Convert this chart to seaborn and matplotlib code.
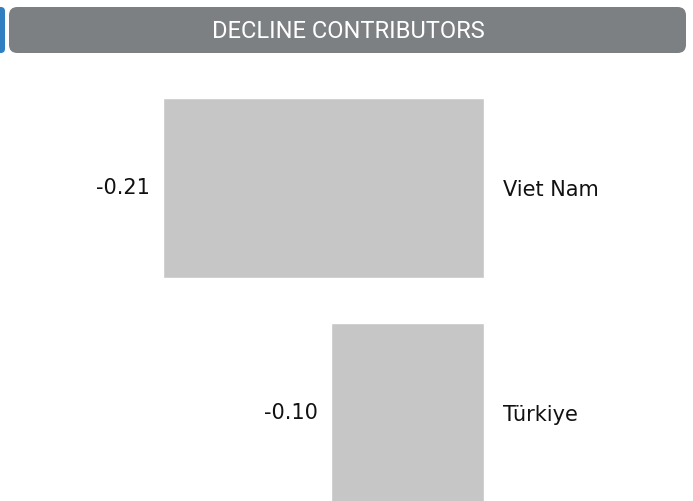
import matplotlib
matplotlib.use("Agg")
import matplotlib.pyplot as plt
from matplotlib.patches import FancyBboxPatch
import seaborn as sns
import pandas as pd

# Countries pulling the index down and their contributions
countries = ["Viet Nam", "Türkiye"]
contributions = [-0.21, -0.10]
value_labels = ["-0.21", "-0.10"]

title = "DECLINE CONTRIBUTORS"

sns.set_theme(style="white")
plt.rcParams["font.family"] = ["DejaVu Sans"]

df = pd.DataFrame({"country": countries, "contribution": contributions})

W, H = 693, 501
fig = plt.figure(figsize=(W / 100, H / 100), dpi=100)

# Axes placed in pixel terms
ax_left, ax_right = 20, 680
ax_top, ax_bottom = 76, 501
ax = fig.add_axes([ax_left / W, 1 - ax_bottom / H,
                   (ax_right - ax_left) / W, (ax_bottom - ax_top) / H])

sns.barplot(data=df, y="country", x="contribution", orient="h",
            color="#c6c6c6", saturation=1, width=0.8, ax=ax)

# x scale: zero at px 484, 1529 px per unit
px_per_unit = 1529.0
x0 = 484
ax.set_xlim(-(x0 - ax_left) / px_per_unit, (ax_right - x0) / px_per_unit)
row_px = 225.0
first_center = 188.0
ax.set_ylim((ax_bottom - first_center) / row_px, (ax_top - first_center) / row_px)

for s in ax.spines.values():
    s.set_visible(False)
ax.set_xticks([])
ax.set_yticks([])
ax.set_xlabel("")
ax.set_ylabel("")

ax.bar_label(ax.containers[0], labels=value_labels, padding=9.5,
             fontsize=15, color="#111111")

for i, name in enumerate(countries):
    ax.annotate(name, xy=(0, i), xytext=(19, -2), textcoords="offset pixels",
                ha="left", va="center", fontsize=15, color="#111111")

# Header bar
fig.patches.append(FancyBboxPatch((-20 / W, 1 - 53 / H), 25 / W, 46 / H,
                                  boxstyle="round,pad=0,rounding_size=0.006",
                                  transform=fig.transFigure,
                                  facecolor="#2f7fc1", edgecolor="none",
                                  mutation_aspect=W / H))
fig.patches.append(FancyBboxPatch((9 / W, 1 - 53 / H), 677 / W, 46 / H,
                                  boxstyle="round,pad=0,rounding_size=0.012",
                                  transform=fig.transFigure,
                                  facecolor="#7d8083", edgecolor="none",
                                  mutation_aspect=W / H))
fig.text(348 / W, 1 - 31 / H, title, ha="center", va="center",
         color="white", fontsize=17, family=["Roboto", "DejaVu Sans"],
         fontstretch="condensed")

fig.savefig("out.png", dpi=100)
